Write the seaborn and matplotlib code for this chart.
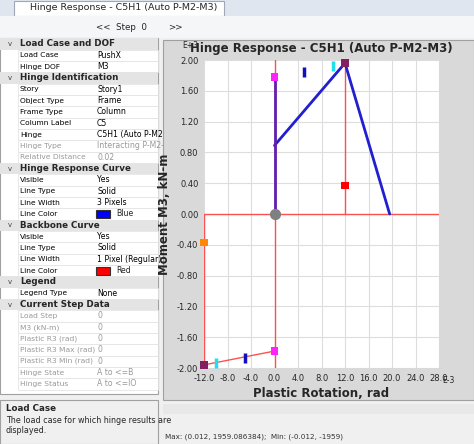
import matplotlib
matplotlib.use("Agg")
import matplotlib.pyplot as plt
import seaborn as sns
import pandas as pd
from matplotlib.patches import Rectangle

sns.set_theme(style="whitegrid")
plt.rcParams['font.family'] = ['DejaVu Sans']

# data (rotation in E-3 rad, moment in E+3 kN-m)
resp_x = [0.0, 0.0, 12.0, 19.6]
resp_y = [0.0, 1.78, 1.96, 0.0]
neg_x = [0.0, -12.0]
neg_y = [-1.78, -1.96]
pts = pd.DataFrame({
    "x": [0, 0, 12, -12, 12, -12],
    "y": [1.78, -1.78, 1.96, -1.96, 0.37, -0.37],
    "kind": ["B", "B", "C", "C", "D", "E"],
})
io_x, io_y = [5.0, -5.0], [1.85, -1.87]
ls_x, ls_y = [10.0, -10.0], [1.92, -1.93]
xticks = [-12, -8, -4, 0, 4, 8, 12, 16, 20, 24, 28]
yticks = [-2.0, -1.6, -1.2, -0.8, -0.4, 0.0, 0.4, 0.8, 1.2, 1.6, 2.0]

rows = [
    ("H", "Load Case and DOF", ""), ("R", "Load Case", "PushX"), ("R", "Hinge DOF", "M3"),
    ("H", "Hinge Identification", ""), ("R", "Story", "Story1"), ("R", "Object Type", "Frame"),
    ("R", "Frame Type", "Column"), ("R", "Column Label", "C5"), ("R", "Hinge", "C5H1 (Auto P-M2"),
    ("G", "Hinge Type", "Interacting P-M2-"), ("G", "Relative Distance", "0.02"),
    ("H", "Hinge Response Curve", ""), ("R", "Visible", "Yes"), ("R", "Line Type", "Solid"),
    ("R", "Line Width", "3 Pixels"), ("C", "Line Color", "Blue"),
    ("H", "Backbone Curve", ""), ("R", "Visible", "Yes"), ("R", "Line Type", "Solid"),
    ("R", "Line Width", "1 Pixel (Regular)"), ("C", "Line Color", "Red"),
    ("H", "Legend", ""), ("R", "Legend Type", "None"),
    ("H", "Current Step Data", ""), ("G", "Load Step", "0"), ("G", "M3 (kN-m)", "0"),
    ("G", "Plastic R3 (rad)", "0"), ("G", "Plastic R3 Max (rad)", "0"),
    ("G", "Plastic R3 Min (rad)", "0"), ("G", "Hinge State", "A to <=B"),
    ("G", "Hinge Status", "A to <=IO"),
]

W, H = 474, 444
fig = plt.figure(figsize=(4.74, 4.44), dpi=100)
fig.patch.set_facecolor("#f0f0f0")

def R(x, y, w, h, fc, ec="none", lw=0.8):
    fig.patches.append(Rectangle((x / W, 1 - (y + h) / H), w / W, h / H, transform=fig.transFigure,
                                 facecolor=fc, edgecolor=ec, linewidth=lw, zorder=0))

def T(x, y, s, **kw):
    fig.text(x / W, 1 - y / H, s, va="center", **kw)

# title tab and toolbar
R(0, 0, 474, 16, "#dfe6ef")
R(14, 1, 210, 15, "#ffffff", "#a0a8b8")
T(30, 8, "Hinge Response - C5H1 (Auto P-M2-M3)", fontsize=6.8)
R(0, 16, 474, 22, "#f5f6f8")
T(96, 27, "<<  Step  0", fontsize=6.3)
T(168, 27, ">>", fontsize=6.3)

# left panel
R(0, 38, 158, 356, "#ffffff", "#a0a0a0")
for i, (k, a, b) in enumerate(rows):
    yc = 44 + i * 11.33
    if k == "H":
        R(0, yc - 5.6, 158, 11.3, "#e4e4e4")
        T(8, yc, "v", fontsize=5, color="#444")
        T(20, yc, a, fontsize=6.3, fontweight="bold")
    else:
        R(18, yc - 5.6, 140, 11.3, "#ffffff", "#e0e0e0", 0.5)
        col = "#999999" if k == "G" else "black"
        T(20, yc, a, fontsize=5.4, color=col)
        if k == "C":
            R(96, yc - 4, 14, 8, "#0000ff" if b == "Blue" else "#ff0000", "#333")
            T(116, yc, b, fontsize=5.6)
        else:
            T(97, yc, b, fontsize=5.6, color=col)
R(0, 400, 158, 44, "#f0f0f0", "#a0a0a0")
T(6, 408, "Load Case", fontsize=6.3, fontweight="bold")
T(6, 420, "The load case for which hinge results are", fontsize=5.8)
T(6, 430, "displayed.", fontsize=5.8)

# plot panel
R(163, 40, 311, 360, "#d9d9d9", "#a0a0a0")
R(163, 404, 311, 10, "#e8e8e8")
T(165, 437, "Max: (0.012, 1959.086384);  Min: (-0.012, -1959)", fontsize=5.2, color="#333")

ax = fig.add_axes([204 / W, 1 - 368 / H, 235 / W, 308 / H])
ax.set_zorder(10)
ax.set_facecolor("white")
ax.grid(True, color="#dddddd", linewidth=0.8)
for s in ax.spines.values():
    s.set_visible(False)
red = "#ff5050"
ax.axhline(0, color=red, lw=1)
ax.axvline(0, color=red, lw=1)
ax.plot([-12, -12], [0, -1.96], color=red, lw=1)
ax.plot([12, 12], [0, 1.96], color=red, lw=1)
sns.lineplot(x=neg_x, y=neg_y, ax=ax, color=red, lw=1, sort=False)
sns.lineplot(x=resp_x, y=resp_y, ax=ax, color="#2020d0", lw=2, sort=False)
ax.plot([0, 0], [0, 1.78], color="#6020b0", lw=2)
sns.scatterplot(data=pts, x="x", y="y", hue="kind", marker="s", s=30, ax=ax, legend=False,
                palette={"B": "#ff22ff", "C": "#802060", "D": "#ff0000", "E": "#ff8800"},
                edgecolor="none", zorder=5, clip_on=False)
ax.scatter([0], [0], s=50, color="#808080", zorder=6, clip_on=False)
ax.scatter(io_x, io_y, marker="|", s=60, linewidths=2.5, color="#1010c0", zorder=6)
ax.scatter(ls_x, ls_y, marker="|", s=60, linewidths=2.5, color="#20e0f0", zorder=6)
ax.set_xlim(-12, 28)
ax.set_ylim(-2, 2)
ax.set_xticks(xticks)
ax.set_xticklabels([f"{v:.1f}" for v in xticks])
ax.set_yticks(yticks)
ax.set_yticklabels([f"{v:.2f}" for v in yticks])
ax.tick_params(labelsize=6, length=2, pad=2)
ax.set_xlabel("Plastic Rotation, rad", fontsize=8.5, fontweight="bold", labelpad=3)
ax.set_ylabel("Moment M3, kN-m", fontsize=8.5, fontweight="bold", labelpad=4)
ax.set_title("Hinge Response - C5H1 (Auto P-M2-M3)", fontsize=8.5, fontweight="bold", pad=6)
T(182, 45, "E+3", fontsize=5.5)
T(442, 380, "E-3", fontsize=5.5)

fig.savefig("out.png", dpi=100, facecolor=fig.get_facecolor())
